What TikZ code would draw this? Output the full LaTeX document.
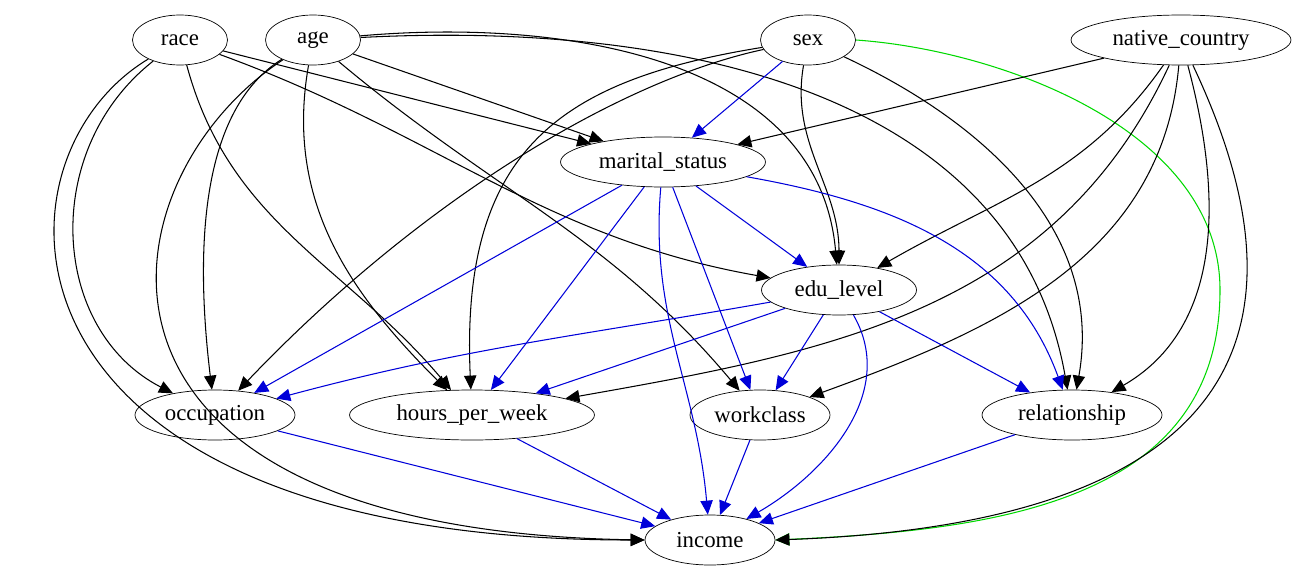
\documentclass[tikz,border=0pt]{standalone}
\usepackage{fontspec}
\setmainfont{Liberation Serif}
\usetikzlibrary{shapes.geometric,arrows.meta}
\begin{document}
\begin{tikzpicture}[x=0.02cm,y=-0.02cm,
  var/.style={draw,ellipse,inner sep=0pt,minimum height=1.0cm,font=\fontsize{13}{15}\selectfont},
  e/.style={-{Triangle[length=8pt,width=7pt]},line width=0.6pt},
  b/.style={e,draw=blue!85!black,fill=none,-{Triangle[length=8pt,width=7pt,fill=blue!85!black]}},
  g/.style={e,draw=green!85!black,-{Triangle[length=8pt,width=7pt,fill=green!85!black]}}]
\useasboundingbox (0,0) rectangle (1304,581);
\node[var,minimum width=1.9cm] (race) at (180,40) {race};
\node[var,minimum width=1.9cm] (age) at (313,40) {age};
\node[var,minimum width=1.9cm] (sex) at (808,40) {sex};
\node[var,minimum width=4.4cm] (nc) at (1181,40) {native\_country};
\node[var,minimum width=4.1cm] (ms) at (663,162) {marital\_status};
\node[var,minimum width=3.1cm] (edu) at (839,290) {edu\_level};
\node[var,minimum width=3.2cm] (occ) at (215,415) {occupation};
\node[var,minimum width=4.9cm] (hpw) at (472,415) {hours\_per\_week};
\node[var,minimum width=2.8cm] (wc) at (760,415) {workclass};
\node[var,minimum width=3.6cm] (rel) at (1072,415) {relationship};
\node[var,minimum width=2.6cm] (inc) at (710,540) {income};
% race
\draw[e] (race) .. controls (-20,160) and (-20,540) .. (inc.west);
\draw[e] (race) .. controls (40,150) and (50,330) .. (occ);
\draw[e] (race) to[out=-75,in=130] (hpw);
\draw[e] (race) -- (ms);
\draw[e] (race) to[out=-20,in=170] (edu);
% age
\draw[e] (age) .. controls (200,110) and (195,250) .. (occ);
\draw[e] (age) .. controls (100,180) and (40,530) .. (inc.west);
\draw[e] (age) to[out=-100,in=135] (hpw);
\draw[e] (age) -- (ms);
\draw[e] (age) to[out=-40,in=130] (wc);
\draw[e] (age) to[out=5,in=95] (edu);
\draw[e] (age) to[out=3,in=100] (rel);
% sex
\draw[b] (sex) -- (ms);
\draw[e] (sex) to[out=-100,in=90] (edu);
\draw[e] (sex) .. controls (620,80) and (420,200) .. (occ);
\draw[e] (sex) .. controls (560,80) and (460,150) .. (hpw);
\draw[e] (sex) to[out=-25,in=80] (rel);
\draw[g] (sex.east) .. controls (1000,50) and (1220,130) .. (1220,290) .. controls (1220,500) and (1000,530) .. (inc.east);
% native country
\draw[e] (nc) -- (ms);
\draw[e] (nc) to[out=-125,in=30] (edu);
\draw[e] (nc) to[out=-115,in=10] (hpw);
\draw[e] (nc) to[out=-95,in=20] (wc);
\draw[e] (nc) to[out=-75,in=30] (rel);
\draw[e] (nc) .. controls (1280,250) and (1330,520) .. (inc.east);
% marital status
\draw[b] (ms) -- (edu);
\draw[b] (ms) -- (occ);
\draw[b] (ms) -- (hpw);
\draw[b] (ms) -- (wc);
\draw[b] (ms) to[out=-95,in=95] (inc);
\draw[b] (ms) to[out=-10,in=110] (rel);
% edu level
\draw[b] (edu) to[out=190,in=15] (occ);
\draw[b] (edu) -- (hpw);
\draw[b] (edu) -- (wc);
\draw[b] (edu) -- (rel);
\draw[b] (edu) to[out=-60,in=30] (inc);
% to income
\draw[b] (occ) -- (inc);
\draw[b] (hpw) -- (inc);
\draw[b] (wc) -- (inc);
\draw[b] (rel) -- (inc);
\end{tikzpicture}
\end{document}
